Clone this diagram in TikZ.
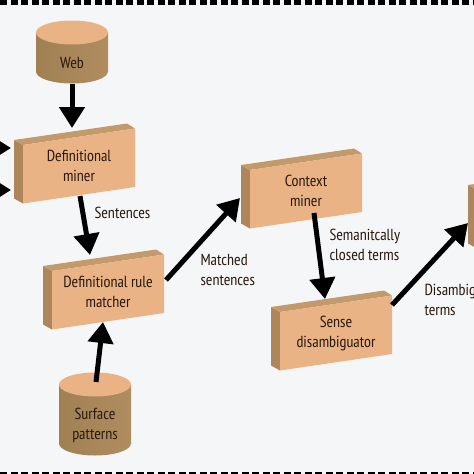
\documentclass[tikz,border=0pt]{standalone}
\usepackage{fontspec}
\setmainfont{PT Sans Narrow}
\usetikzlibrary{arrows.meta,calc}
\definecolor{ink}{HTML}{2A1A10}
\definecolor{peach}{HTML}{EAB386}
\definecolor{slabtopc}{HTML}{C29A6B}
\definecolor{slabsidec}{HTML}{AD875B}
\definecolor{tan}{HTML}{B08D60}
\definecolor{tandark}{HTML}{A08052}
\definecolor{paper}{HTML}{F5F6F7}
\tikzstyle{every node}=[text=ink,font=\fontsize{16}{20}\selectfont,align=center]
\tikzstyle{slabtext}=[inner sep=0pt]
\tikzstyle{drumtext}=[inner sep=0pt]
\tikzstyle{flow}=[line width=5pt,-{Triangle[length=21pt,width=25pt]}]
\tikzstyle{lbl}=[anchor=west,align=left]
\newcommand{\slab}[3]{%
  \begin{scope}[shift={(#2)}]
    \fill[slabsidec] (-65,-26) -- (-56,-21) -- (-56,37.5) -- (-65,32.5) -- cycle;
    \fill[slabtopc] (-65,-26) -- (48,-42.5) -- (56,-37.5) -- (-56,-21) -- cycle;
    \fill[peach] (-56,-21) -- (56,-37.5) -- (56,21) -- (-56,37.5) -- cycle;
  \end{scope}
  \node[slabtext] (#1) at (#2) {#3};}
\newcommand{\drum}[4]{%
  \coordinate (#1) at (#2);
  \begin{scope}[shift={(#2)}]
    \shade[left color=tandark,right color=tan] (-36,-#3/2+12) -- (-36,#3/2-12)
      arc[start angle=180,end angle=0,x radius=36,y radius=12] -- (36,-#3/2+12) -- cycle;
    \fill[peach] (0,-#3/2+12) ellipse[x radius=36,y radius=12];
  \end{scope}
  \node[drumtext] (#1t) at ($(#1)+(0,11)$) {#4};}

\begin{document}
\begin{tikzpicture}[x=1pt,y=-1pt]
  \useasboundingbox (0,0) rectangle (474,474);
  \clip (0,0) rectangle (474,474);
  \fill[paper] (0,0) rectangle (474,474);
  \draw[line width=5pt,dash pattern=on 7pt off 3.5pt] (0,2.5) -- (474,2.5);
  \draw[line width=5pt,dash pattern=on 7pt off 3.5pt] (0,474) -- (474,474);

  \drum{web}{72,52}{63}{Web}
  \drum{sp}{95,414}{83}{Surface\\patterns}

  \slab{dm}{79,166}{Definitional\\miner}
  \slab{drm}{108,292}{Definitional rule\\matcher}
  \slab{cm}{306,191}{Context\\miner}
  \slab{sd}{336,333}{Sense\\disambiguator}
  \slab{ont}{533,211}{}

  \coordinate (in1) at (-20,148);
  \coordinate (in2) at (-20,190);

  \draw[flow] ($(web)+(0,32)$) -- ($(dm)+(-7,-38)$);
  \draw[flow] (in1) -- ($(dm)+(-68,-18)$);
  \draw[flow] (in2) -- ($(dm)+(-68,24)$);
  \draw[flow] ($(dm)+(1,30)$) -- ($(drm)+(-18,-37)$);
  \draw[flow] ($(sp)+(1,-32)$) -- ($(drm)+(-5,30)$);
  \draw[flow] ($(drm)+(58,-12)$) -- ($(cm)+(-66,7)$);
  \draw[flow] ($(cm)+(8,22)$) -- ($(sd)+(-11,-34)$);
  \draw[flow] ($(sd)+(56,-28)$) -- ($(ont)+(-65,12)$);

  \node[lbl] (l1) at (91,213) {Sentences};
  \node[lbl] (l2) at (197,270) {Matched\\sentences};
  \node[lbl] (l3) at (326,245) {Semanitcally\\closed terms};
  \node[lbl] (l4) at (421,300) {Disambiguated\\terms};
\end{tikzpicture}
\end{document}
